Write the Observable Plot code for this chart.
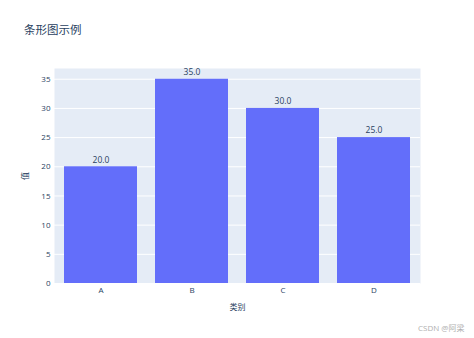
<!DOCTYPE html>
<html>
<head>
<meta charset="utf-8">
<script src="https://cdn.jsdelivr.net/npm/d3@7"></script>
<script src="https://cdn.jsdelivr.net/npm/@observablehq/plot@0.6"></script>
<style>
  html, body { margin: 0; padding: 0; background: #fff; }
  #wrap { position: relative; width: 474px; height: 338px; font-family: "Open Sans", "Noto Sans CJK SC", sans-serif; }
  #title { position: absolute; left: 24px; top: 21px; font-size: 11.5px; color: #2a3f5f; white-space: nowrap; }
  #mark { position: absolute; left: 418px; top: 322px; font-size: 8px; color: #b0b0b0; white-space: nowrap; }
</style>
</head>
<body>
<div id="wrap">
  <div id="title">条形图示例</div>
  <div id="mark">CSDN @阿梁</div>
</div>
<script>
const categories = ["A", "B", "C", "D"];
const values = [20, 35, 30, 25];
const yTicks = [0, 5, 10, 15, 20, 25, 30, 35];
const titleText = "条形图示例";
const xTitle = "类别";
const yTitle = "值";

const data = categories.map((c, i) => ({ category: c, value: values[i] }));

const chart = Plot.plot({
  width: 474,
  height: 338,
  marginLeft: 54,
  marginRight: 54,
  marginTop: 68,
  marginBottom: 55,
  style: { fontFamily: '"Open Sans", "Noto Sans CJK SC", sans-serif', fontSize: "8px", color: "#2a3f5f", background: "transparent" },
  x: { domain: categories, paddingInner: 0.2, paddingOuter: 0.1 },
  y: { domain: [0, 36.84] },
  marks: [
    Plot.frame({ fill: "#E5ECF6", stroke: null }),
    Plot.gridY(yTicks, { stroke: "#fff", strokeOpacity: 1, strokeWidth: 1 }),
    Plot.barY(data, { x: "category", y: "value", fill: "#636EFA" }),
    Plot.text(data, { x: "category", y: "value", text: d => d.value.toFixed(1), dy: -7, fill: "#2a3f5f", fontSize: 8.5 }),
    Plot.axisY({ ticks: yTicks, tickSize: 0, tickPadding: 4, label: yTitle, labelAnchor: "center", labelArrow: "none", labelOffset: 32, fontSize: 8 }),
    Plot.axisX({ tickSize: 0, tickPadding: 4, label: xTitle, labelAnchor: "center", labelArrow: "none", labelOffset: 26, fontSize: 8 })
  ]
});
chart.style.position = "absolute";
chart.style.left = "0";
chart.style.top = "0";
const wrap = document.getElementById("wrap");
wrap.insertBefore(chart, wrap.firstChild);
</script>
</body>
</html>
